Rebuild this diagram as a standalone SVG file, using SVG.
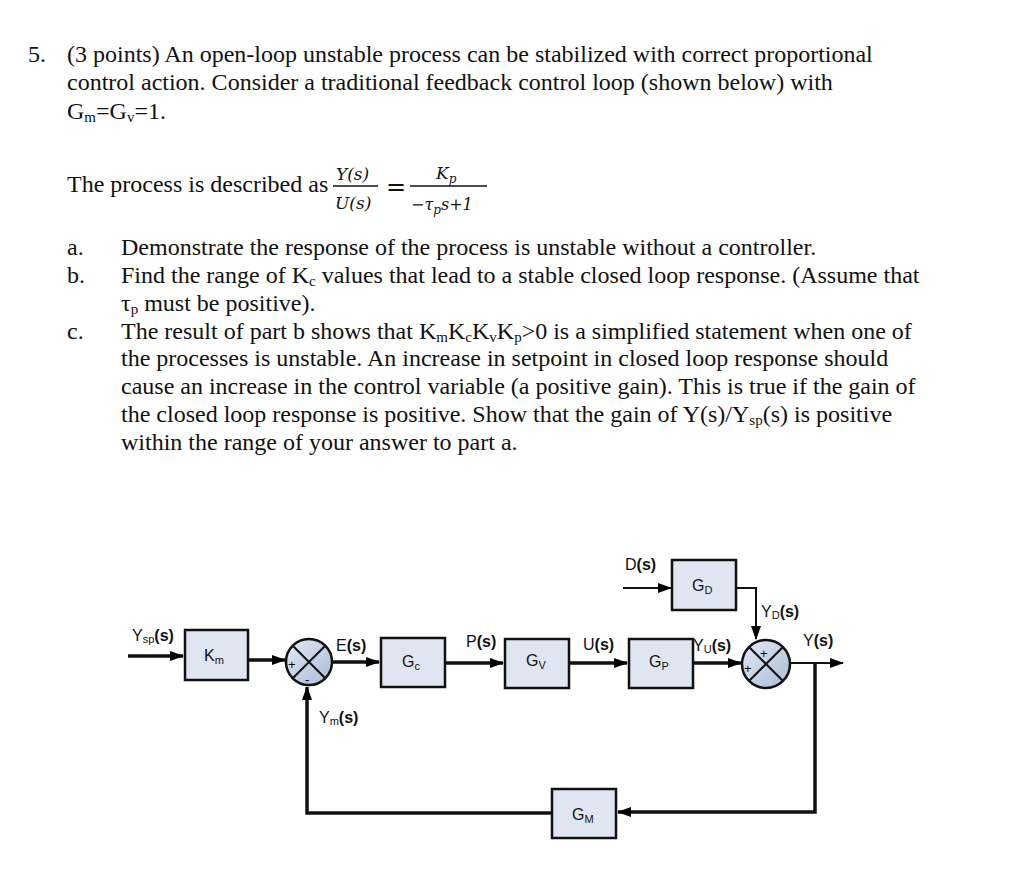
<svg xmlns="http://www.w3.org/2000/svg" width="1024" height="878" viewBox="0 0 1024 878">
<defs>
<marker id="ah" markerWidth="14" markerHeight="10" refX="13" refY="5" orient="auto" markerUnits="userSpaceOnUse"><path d="M0,0 L14,5 L0,10 z" fill="#000"/></marker>
<linearGradient id="sg" x1="0" y1="0" x2="1" y2="1"><stop offset="0" stop-color="#e4eaf4"/><stop offset="1" stop-color="#a9bbd6"/></linearGradient>
</defs>
<style>
.b{fill:#dfe6f1;stroke:#111;stroke-width:2.5}
.l{font-family:'Liberation Sans',Arial,sans-serif;font-size:16px;fill:#111}
.s{font-size:11px}
.w{stroke:#111;stroke-width:3.5;fill:none}
.n{stroke:#111;stroke-width:2;fill:none}
</style>
<rect width="1024" height="878" fill="#fff"/>
<g id="text" font-family="Liberation Serif, Times New Roman, serif" font-size="24" fill="#111">
<text x="28" y="62">5.</text>
<text x="67" y="62">(3 points) An open-loop unstable process can be stabilized with correct proportional</text>
<text x="67" y="90">control action.  Consider a traditional feedback control loop (shown below) with</text>
<text x="67" y="119">G<tspan font-size="15" dy="3">m</tspan><tspan dy="-3">=G</tspan><tspan font-size="15" dy="3">v</tspan><tspan dy="-3">=1.</tspan></text>
<text x="67" y="192">The process is described as</text>
<text x="67" y="255">a.</text>
<text x="121" y="255">Demonstrate the response of the process is unstable without a controller.</text>
<text x="67" y="283">b.</text>
<text x="121" y="283">Find the range of K<tspan font-size="15" dy="3">c</tspan><tspan dy="-3"> values that lead to a stable closed loop response. (Assume that</tspan></text>
<text x="121" y="311">τ<tspan font-size="15" dy="3">p</tspan><tspan dy="-3"> must be positive).</tspan></text>
<text x="67" y="339">c.</text>
<text x="121" y="339">The result of part b shows that K<tspan font-size="15" dy="3">m</tspan><tspan dy="-3">K</tspan><tspan font-size="15" dy="3">c</tspan><tspan dy="-3">K</tspan><tspan font-size="15" dy="3">v</tspan><tspan dy="-3">K</tspan><tspan font-size="15" dy="3">p</tspan><tspan dy="-3">&gt;0 is a simplified statement when one of</tspan></text>
<text x="121" y="366">the processes is unstable. An increase in setpoint in closed loop response should</text>
<text x="121" y="394">cause an increase in the control variable (a positive gain).  This is true if the gain of</text>
<text x="121" y="422">the closed loop response is positive.  Show that the gain of Y(s)/Y<tspan font-size="15" dy="3">sp</tspan><tspan dy="-3">(s) is positive</tspan></text>
<text x="121" y="450">within the range of your answer to part a.</text>
</g>
<g id="equation" font-family="DejaVu Serif, serif" font-style="italic" fill="#111">
<text x="336" y="180" font-size="17">Y(s)</text>
<line x1="333" y1="186" x2="378" y2="186" stroke="#111" stroke-width="1.3"/>
<text x="335" y="209" font-size="17">U(s)</text>
<text x="386" y="195" font-style="normal" font-size="24">=</text>
<text x="436" y="179" font-size="17">K<tspan font-size="12" dy="4">p</tspan></text>
<line x1="410" y1="186" x2="487" y2="186" stroke="#111" stroke-width="1.3"/>
<text x="411" y="210" font-size="16">−τ<tspan font-size="12" dy="4">p</tspan><tspan dy="-4">s+1</tspan></text>
</g>
<g id="connectors">
<line class="w" x1="128" y1="656" x2="183" y2="656" marker-end="url(#ah)"/>
<line class="w" x1="248" y1="660" x2="285" y2="660" marker-end="url(#ah)"/>
<line class="w" x1="332" y1="662" x2="379" y2="662" marker-end="url(#ah)"/>
<line class="w" x1="445" y1="663" x2="503" y2="663" marker-end="url(#ah)"/>
<line class="w" x1="569" y1="663" x2="627" y2="663" marker-end="url(#ah)"/>
<line class="w" x1="693" y1="663" x2="741" y2="663" marker-end="url(#ah)"/>
<line class="n" x1="623" y1="588" x2="671" y2="588" marker-end="url(#ah)"/>
<polyline class="n" points="736,588 756,588 756,639" marker-end="url(#ah)"/>
<line class="n" x1="790" y1="663" x2="843" y2="663" marker-end="url(#ah)"/>
<polyline class="w" points="815,663 815,812 618,812" marker-end="url(#ah)"/>
<polyline class="w" points="552,813 307,813 307,687" marker-end="url(#ah)"/>
</g>
<g id="Km"><rect class="b" x="185" y="630" width="63" height="50"/><text class="l" x="204" y="661">K<tspan class="s" dy="3">m</tspan></text></g>
<g id="sum1"><circle cx="309" cy="662" r="23" fill="url(#sg)" stroke="#111" stroke-width="2.5"/>
<path class="n" stroke-width="2.5" d="M293,646 L325,678 M325,646 L293,678"/>
<text x="288" y="669" font-family="Liberation Sans,sans-serif" font-size="13">+</text><text x="305" y="684" font-family="Liberation Sans,sans-serif" font-size="13">-</text></g>
<g id="Gc"><rect class="b" x="381" y="638" width="64" height="49"/><text class="l" x="402" y="667">G<tspan class="s" dy="3">c</tspan></text></g>
<g id="Gv"><rect class="b" x="505" y="639" width="64" height="49"/><text class="l" x="526" y="666">G<tspan class="s" dy="3">V</tspan></text></g>
<g id="Gp"><rect class="b" x="629" y="639" width="64" height="49"/><text class="l" x="649" y="667">G<tspan class="s" dy="3">P</tspan></text></g>
<g id="Gd"><rect class="b" x="672" y="560" width="64" height="50"/><text class="l" x="692" y="591">G<tspan class="s" dy="3">D</tspan></text></g>
<g id="Gm"><rect class="b" x="552" y="789" width="64" height="49"/><text class="l" x="572" y="820">G<tspan class="s" dy="3">M</tspan></text></g>
<g id="sum2"><circle cx="766" cy="664" r="24" fill="url(#sg)" stroke="#111" stroke-width="2.5"/>
<path class="n" stroke-width="2.5" d="M749,647 L783,681 M783,647 L749,681"/>
<text x="760" y="658" font-family="Liberation Sans,sans-serif" font-size="13">+</text><text x="744" y="673" font-family="Liberation Sans,sans-serif" font-size="13">+</text></g>
<g id="labels" font-family="Liberation Sans,sans-serif" font-size="16" fill="#111">
<text x="132" y="641">Y<tspan font-size="11" dy="2">sp</tspan><tspan dy="-2" font-weight="bold">(s)</tspan></text>
<text x="336" y="651">E<tspan font-weight="bold">(s)</tspan></text>
<text x="466" y="647">P<tspan font-weight="bold">(s)</tspan></text>
<text x="583" y="650">U<tspan font-weight="bold">(s)</tspan></text>
<text x="319" y="723">Y<tspan font-size="11" dy="2">m</tspan><tspan dy="-2" font-weight="bold">(s)</tspan></text>
<text x="625" y="570">D<tspan font-weight="bold">(s)</tspan></text>
<text x="761" y="617">Y<tspan font-size="11" dy="2">D</tspan><tspan dy="-2" font-weight="bold">(s)</tspan></text>
<text x="693" y="651">Y<tspan font-size="11" dy="2">U</tspan><tspan dy="-2" font-weight="bold">(s)</tspan></text>
<text x="803" y="646">Y<tspan font-weight="bold">(s)</tspan></text>
</g>
</svg>
